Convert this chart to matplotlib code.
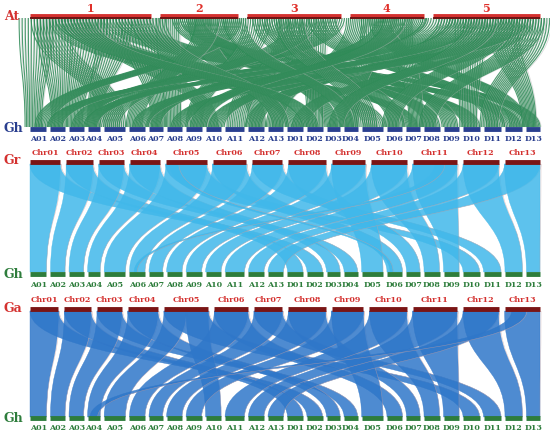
import numpy as np
import matplotlib.pyplot as plt
from matplotlib.path import Path
from matplotlib.patches import PathPatch

# ---------------- data ----------------
at_names = ['1', '2', '3', '4', '5']
at_len = [30.4, 19.7, 23.5, 18.6, 27.0]

gh_names = ['A01', 'A02', 'A03', 'A04', 'A05', 'A06', 'A07', 'A08', 'A09', 'A10', 'A11', 'A12', 'A13',
            'D01', 'D02', 'D03', 'D04', 'D05', 'D06', 'D07', 'D08', 'D09', 'D10', 'D11', 'D12', 'D13']
gh_len = [17, 15, 15, 13, 22, 16, 14, 16, 16, 16, 20, 16, 16,
          16, 16, 14, 14, 22, 16, 14, 16, 16, 17, 18, 18, 14]

gr_names = ['Chr%02d' % i for i in range(1, 14)]
gr_len = [34, 30, 28, 34, 46, 38, 34, 42, 38, 40, 50, 40, 40]
ga_len = [32, 30, 28, 34, 50, 38, 32, 42, 36, 42, 50, 40, 40]

# At-Gh links: (At chr, frac, Gh chr, frac)
at_links = [
    (0, .05, 0, .2), (0, .15, 4, .5), (0, .3, 13, .4), (0, .45, 17, .6), (0, .6, 9, .3),
    (0, .75, 22, .5), (0, .9, 6, .7), (0, .2, 1, .6), (0, .5, 2, .4), (0, .7, 3, .5),
    (0, .35, 19, .3), (0, .85, 24, .4), (1, .1, 7, .4), (1, .3, 20, .5), (1, .5, 11, .6),
    (1, .7, 15, .3), (1, .9, 0, .8), (1, .4, 25, .5), (1, .6, 5, .3), (2, .1, 8, .5),
    (2, .3, 21, .4), (2, .5, 10, .6), (2, .7, 14, .5), (2, .9, 2, .7), (2, .2, 18, .6),
    (2, .6, 4, .2), (2, .8, 23, .7), (3, .1, 12, .4), (3, .3, 16, .5), (3, .5, 6, .3),
    (3, .7, 19, .7), (3, .9, 1, .3), (3, .4, 24, .8), (4, .05, 3, .2), (4, .2, 11, .3),
    (4, .35, 22, .3), (4, .5, 9, .7), (4, .65, 25, .2), (4, .8, 13, .8), (4, .95, 23, .3),
    (4, .3, 5, .7), (4, .6, 18, .2), (4, .75, 7, .8), (4, .9, 20, .2), (0, .98, 12, .8),
    (1, .95, 16, .2), (2, .45, 17, .2), (3, .6, 8, .8), (4, .45, 15, .7), (0, .4, 14, .2),
]
# Gr-Gh ribbons: (Gr chr, start, end, Gh chr, start, end)
gr_links = [
    (0, 0, 1, 0, 0, 1), (0, 0, 1, 14, 0, 1), (1, 0, 1, 1, 0, 1), (1, 0, 1, 13, 0, 1),
    (2, 0, 1, 2, 0, 1), (2, 0, 1, 16, 0, 1), (3, 0, 1, 3, 0, 1), (3, 0, 1, 15, 0, 1),
    (4, 0, 1, 4, 0, 1), (4, 0, 1, 22, 0, 1), (5, 0, 1, 5, 0, 1), (5, 0, 1, 18, 0, 1),
    (6, 0, 1, 6, 0, 1), (6, 0, 1, 23, 0, 1), (7, 0, 1, 7, 0, 1), (7, 0, 1, 19, 0, 1),
    (8, 0, 1, 8, 0, 1), (8, 0, 1, 17, 0, 1), (9, 0, 1, 9, 0, 1), (9, 0, 1, 20, 0, 1),
    (10, 0, 1, 10, 0, 1), (10, 0, 1, 21, 0, 1), (11, 0, 1, 11, 0, 1), (11, 0, 1, 24, 0, 1),
    (12, 0, 1, 12, 0, 1), (12, 0, 1, 25, 0, 1), (4, .1, .3, 18, .2, .4), (10, .5, .7, 5, .3, .5),
]
ga_links = [
    (0, 0, 1, 0, 0, 1), (0, 0, 1, 14, 0, 1), (1, 0, 1, 1, 0, 1), (1, 0, 1, 13, 0, 1),
    (2, 0, 1, 2, 0, 1), (2, 0, 1, 16, 0, 1), (3, 0, 1, 3, 0, 1), (3, 0, 1, 15, 0, 1),
    (4, 0, .5, 4, 0, 1), (4, .5, 1, 9, 0, 1), (4, 0, 1, 22, 0, 1), (5, 0, 1, 5, 0, 1),
    (5, 0, 1, 18, 0, 1), (6, 0, 1, 6, 0, 1), (6, 0, 1, 23, 0, 1), (7, 0, 1, 7, 0, 1),
    (7, 0, 1, 19, 0, 1), (8, 0, 1, 8, 0, 1), (8, 0, 1, 17, 0, 1), (9, 0, 1, 10, 0, 1),
    (9, 0, 1, 20, 0, 1), (10, 0, 1, 11, 0, 1), (10, 0, 1, 21, 0, 1), (11, 0, 1, 12, 0, 1),
    (11, 0, 1, 24, 0, 1), (12, 0, 1, 25, 0, 1), (12, .2, .6, 3, .2, .8),
]

X0, X1 = 30, 540


def layout(lengths, gap):
    lengths = np.asarray(lengths, float)
    scale = (X1 - X0 - gap * (len(lengths) - 1)) / lengths.sum()
    starts = X0 + np.concatenate([[0], np.cumsum(lengths[:-1] * scale + gap)])
    return starts, starts + lengths * scale


def ribbon(ax, xa, xb, xc, xd, yt, yb, color, alpha):
    ym = (yt + yb) / 2
    verts = [(xa, yt), (xa, ym), (xc, ym), (xc, yb), (xd, yb), (xd, ym), (xb, ym), (xb, yt), (xa, yt)]
    codes = [Path.MOVETO, Path.CURVE4, Path.CURVE4, Path.CURVE4, Path.LINETO,
             Path.CURVE4, Path.CURVE4, Path.CURVE4, Path.CLOSEPOLY]
    ax.add_patch(PathPatch(Path(verts, codes), fc=color, ec=color, lw=0.3, alpha=alpha))


def curve(ax, xa, xc, yt, yb, color, lw, alpha):
    ym = (yt + yb) / 2
    p = Path([(xa, yt), (xa, ym), (xc, ym), (xc, yb)], [Path.MOVETO, Path.CURVE4, Path.CURVE4, Path.CURVE4])
    ax.add_patch(PathPatch(p, fc='none', ec=color, lw=lw, alpha=alpha))


def bars(ax, s, e, y, color, lw=3.5):
    for a, b in zip(s, e):
        ax.plot([a, b], [y, y], color=color, lw=lw, solid_capstyle='butt')


fig = plt.figure(figsize=(5.5, 4.38), dpi=100)
ax = fig.add_axes([0, 0, 1, 1])
ax.set_xlim(0, 550)
ax.set_ylim(438, 0)
ax.axis('off')
font = dict(family='DejaVu Serif', fontweight='bold')

gh_s, gh_e = layout(gh_len, 4)

# ---- panel 1: At vs Gh ----
at_s, at_e = layout(at_len, 9)
yt, yb = 18, 127
for ci, f, gi, g in at_links:
    xa = at_s[ci] + f * (at_e[ci] - at_s[ci])
    xc = gh_s[gi] + g * (gh_e[gi] - gh_s[gi])
    w1 = (at_e[ci] - at_s[ci]) * 0.14
    w2 = (gh_e[gi] - gh_s[gi]) * 0.5
    for j in np.linspace(-1, 1, 12):
        curve(ax, xa + j * w1 + 2, xc + j * w2 + 1, yt, yb, '#b8b8b8', 0.6, 0.5)
        curve(ax, xa + j * w1, xc + j * w2, yt, yb, '#2e8b57', 0.8, 0.85)
bars(ax, at_s, at_e, 16, '#d4312f')
bars(ax, at_s, at_e, 17.5, '#5a1010', 1.2)
for n, a, b in zip(at_names, at_s, at_e):
    ax.text((a + b) / 2, 8, n, color='#e0302a', fontsize=8, ha='center', va='center', **font)
ax.text(4, 16, 'At', color='#d4312f', fontsize=9, va='center', **font)


def gh_row(y, ylab, col):
    bars(ax, gh_s, gh_e, y, col)
    for n, a, b in zip(gh_names, gh_s, gh_e):
        ax.text((a + b) / 2, ylab, n, color=col, fontsize=5.7, ha='center', va='center', **font)
    ax.text(4, y, 'Gh', color=col, fontsize=9, va='center', **font)


gh_row(129, 139, '#2a3f8f')


def species_panel(lengths, links, ytop, ybot, color, name):
    s, e = layout(lengths, 6)
    for ci, a0, a1, gi, b0, b1 in links:
        wa = e[ci] - s[ci]
        wb = gh_e[gi] - gh_s[gi]
        ribbon(ax, s[ci] + a0 * wa, s[ci] + a1 * wa, gh_s[gi] + b0 * wb, gh_s[gi] + b1 * wb,
               ytop, ybot, color, 0.85)
        curve(ax, s[ci] + a1 * wa + 1, gh_s[gi] + b1 * wb, ytop, ybot, '#c8a0a0', 0.4, 0.6)
    bars(ax, s, e, ytop - 2, '#7a1515')
    for n, a, b in zip(gr_names, s, e):
        ax.text((a + b) / 2, ytop - 11, n, color='#d4312f', fontsize=5.8, ha='center', va='center', **font)
    ax.text(4, ytop - 3, name, color='#d4312f', fontsize=9, va='center', **font)


species_panel(gr_len, gr_links, 164, 272, '#41b8ea', 'Gr')
gh_row(274, 285, '#2e7d3c')
species_panel(ga_len, ga_links, 311, 417, '#2f77c9', 'Ga')
gh_row(418, 428, '#2e7d3c')

fig.savefig('out.png', dpi=100, facecolor='white')
